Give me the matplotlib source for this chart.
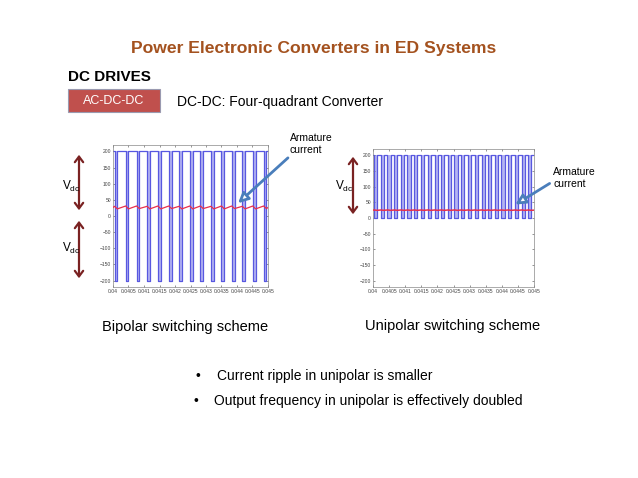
import matplotlib
matplotlib.use("Agg")
import matplotlib.pyplot as plt
import numpy as np
from matplotlib.patches import FancyArrowPatch, Rectangle

# ---- data ----
v_high = 200
v_low_bipolar = -200
v_low_unipolar = 0

# bipolar: start / end times of the -200 V pulses
bi_low_on = [0.04005, 0.04041, 0.04076, 0.04110, 0.04145, 0.04180, 0.04213, 0.04248,
             0.04282, 0.04316, 0.04350, 0.04383, 0.04417, 0.04451, 0.04486]
bi_low_off = [0.04014, 0.04050, 0.04085, 0.04119, 0.04154, 0.04189, 0.04222, 0.04257,
              0.04291, 0.04325, 0.04359, 0.04392, 0.04426, 0.04460, 0.04495]
# armature current at pulse start (peak) and pulse end (valley)
bi_i_peak = [30, 31, 31, 30, 31, 31, 30, 31, 31, 30, 31, 31, 30, 31, 31]
bi_i_valley = [22, 22, 23, 22, 22, 23, 22, 22, 23, 22, 22, 23, 22, 22, 23]

# unipolar: start / end times of the 0 V pulses
uni_low_on = [0.04003, 0.04024, 0.04045, 0.04066, 0.04087, 0.04107, 0.04128, 0.04149,
              0.04170, 0.04191, 0.04212, 0.04232, 0.04253, 0.04274, 0.04295, 0.04316,
              0.04337, 0.04357, 0.04378, 0.04399, 0.04420, 0.04441, 0.04462, 0.04482]
uni_low_off = [0.04013, 0.04034, 0.04055, 0.04076, 0.04097, 0.04117, 0.04138, 0.04159,
               0.04180, 0.04201, 0.04222, 0.04242, 0.04263, 0.04284, 0.04305, 0.04326,
               0.04347, 0.04367, 0.04388, 0.04409, 0.04430, 0.04451, 0.04472, 0.04492]
uni_i_peak = [25.6, 25.5, 25.6, 25.5, 25.6, 25.5, 25.6, 25.5, 25.6, 25.5, 25.6, 25.5,
              25.6, 25.5, 25.6, 25.5, 25.6, 25.5, 25.6, 25.5, 25.6, 25.5, 25.6, 25.5]
uni_i_valley = [24.4, 24.5, 24.4, 24.5, 24.4, 24.5, 24.4, 24.5, 24.4, 24.5, 24.4, 24.5,
                24.4, 24.5, 24.4, 24.5, 24.4, 24.5, 24.4, 24.5, 24.4, 24.5, 24.4, 24.5]

t_start, t_end = 0.04, 0.045
x_ticks = [0.04, 0.0405, 0.041, 0.0415, 0.042, 0.0425, 0.043, 0.0435, 0.044, 0.0445, 0.045]
x_ticklabels = ["0.04", "0.0405", "0.041", "0.0415", "0.042", "0.0425", "0.043",
                "0.0435", "0.044", "0.0445", "0.045"]
y_ticks = [200, 150, 100, 50, 0, -50, -100, -150, -200]

W, H = 638, 478
BLUE = "#5858e0"
PULSE_FILL = "#b4b4f2"
RED = "#e8304c"
MAROON = "#7a2222"
ARROW_BLUE = "#4a7ebb"


def px(x, y):
    return x / W, 1 - y / H


def pulse_wave(on, off, hi, lo):
    xs, ys = [t_start], [hi]
    for a, b in zip(on, off):
        xs += [a, a, b, b]
        ys += [hi, lo, lo, hi]
    xs.append(t_end)
    ys.append(hi)
    return xs, ys


def current_wave(on, off, peak, valley):
    mid = valley[-1] + 0.5 * (peak[0] - valley[-1])
    xs, ys = [t_start], [mid]
    for a, b, p, v in zip(on, off, peak, valley):
        xs += [a, b]
        ys += [p, v]
    xs.append(t_end)
    ys.append(mid)
    return xs, ys


def style_axes(ax):
    ax.set_xlim(t_start, t_end)
    ax.set_ylim(-220, 220)
    ax.set_xticks(x_ticks)
    ax.set_xticklabels(x_ticklabels)
    ax.set_yticks(y_ticks)
    ax.tick_params(direction="in", length=1.5, width=0.4, labelsize=3.6, pad=1.5,
                   top=True, right=True, colors="#444444")
    for s in ax.spines.values():
        s.set_linewidth(0.5)
        s.set_color("#888888")


def draw_pulses(ax, on, off, hi, lo):
    for a, b in zip(on, off):
        ax.axvspan(a, b, ymin=(min(hi, lo) + 220) / 440, ymax=(max(hi, lo) + 220) / 440,
                   color=PULSE_FILL, lw=0, zorder=1)
    x, y = pulse_wave(on, off, hi, lo)
    ax.plot(x, y, color=BLUE, lw=0.9, zorder=2)


fig = plt.figure(figsize=(W / 100, H / 100), dpi=100)
plt.rcParams["font.family"] = ["Liberation Sans", "DejaVu Sans"]

# left: bipolar
ax1 = fig.add_axes([113 / W, 1 - 287 / H, 155 / W, 142 / H])
draw_pulses(ax1, bi_low_on, bi_low_off, v_high, v_low_bipolar)
x, y = current_wave(bi_low_on, bi_low_off, bi_i_peak, bi_i_valley)
ax1.plot(x, y, color=RED, lw=0.9, zorder=3)
style_axes(ax1)

# right: unipolar
ax2 = fig.add_axes([373 / W, 1 - 287 / H, 161 / W, 138 / H])
draw_pulses(ax2, uni_low_on, uni_low_off, v_high, v_low_unipolar)
x, y = current_wave(uni_low_on, uni_low_off, uni_i_peak, uni_i_valley)
ax2.plot(x, y, color=RED, lw=1.1, zorder=3)
style_axes(ax2)

# slide text
fig.text(*px(314, 48), "Power Electronic Converters in ED Systems", ha="center", va="center",
         fontsize=12.6, fontweight="bold", color="#a4521f")
fig.text(*px(68, 77), "DC DRIVES", ha="left", va="center", fontsize=11, fontweight="bold")
fig.add_artist(Rectangle(px(68, 112), 92 / W, 23 / H, transform=fig.transFigure,
                         facecolor="#c0504d", edgecolor="#9a9ab0", lw=0.8))
fig.text(*px(114, 101), "AC-DC-DC", ha="center", va="center", fontsize=9, color="white")
fig.text(*px(177, 102), "DC-DC: Four-quadrant Converter", ha="left", va="center", fontsize=10)

fig.text(*px(185, 327), "Bipolar switching scheme", ha="center", va="center", fontsize=10.5)
fig.text(*px(453, 326), "Unipolar switching scheme", ha="center", va="center", fontsize=10.5)
fig.text(*px(196, 376), "\u2022", ha="left", va="center", fontsize=10)
fig.text(*px(217, 376), "Current ripple in unipolar is smaller", ha="left", va="center", fontsize=10)
fig.text(*px(193, 401), "\u2022", ha="left", va="center", fontsize=10)
fig.text(*px(214, 401), "Output frequency in unipolar is effectively doubled", ha="left",
         va="center", fontsize=10)

# Vdc arrows
for (xa, ya, yb) in [(79, 152, 213), (79, 218, 281), (353, 154, 217)]:
    fig.add_artist(FancyArrowPatch(px(xa, ya), px(xa, yb), transform=fig.transFigure,
                                   arrowstyle="<->,head_length=4,head_width=3",
                                   color=MAROON, lw=1.6))
for (xt, yt) in [(62, 186), (62, 248), (335, 186)]:
    fig.text(*px(xt, yt), r"V$_{\mathregular{dc}}$", ha="left", va="center", fontsize=8.5)

# armature current callouts
fig.text(*px(290, 144), "Armature\ncurrent", ha="left", va="center", fontsize=7.5,
         linespacing=1.25)
fig.text(*px(553, 178), "Armature\ncurrent", ha="left", va="center", fontsize=7.5,
         linespacing=1.25)
for (p0, p1) in [((290, 156), (236, 205)), ((552, 182), (513, 206))]:
    fig.add_artist(FancyArrowPatch(px(*p0), px(*p1), transform=fig.transFigure,
                                   arrowstyle="-|>,head_length=6,head_width=3",
                                   facecolor="white", edgecolor=ARROW_BLUE, lw=2))

fig.savefig("out.png", dpi=100)
